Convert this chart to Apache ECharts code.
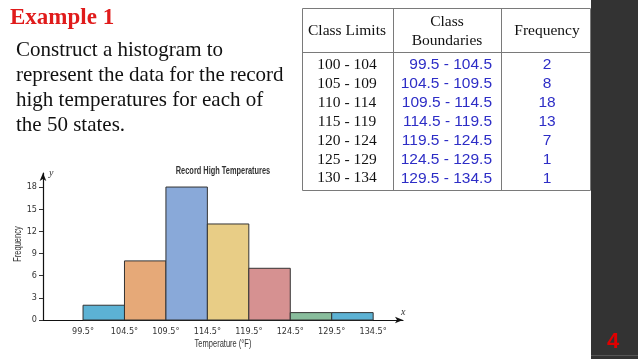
<!DOCTYPE html>
<html>
<head>
<meta charset="utf-8">
<script src="https://cdn.jsdelivr.net/npm/echarts@6/dist/echarts.min.js"></script>
<style>
html,body{margin:0;padding:0;background:#fff;}
#c{width:638px;height:359px;}
</style>
</head>
<body>
<div id="c"></div>
<script>
// ---- data ----
const classLimits = ['100 - 104','105 - 109','110 - 114','115 - 119','120 - 124','125 - 129','130 - 134'];
const lowerBounds = [99.5, 104.5, 109.5, 114.5, 119.5, 124.5, 129.5];
const upperBounds = [104.5, 109.5, 114.5, 119.5, 124.5, 129.5, 134.5];
const frequencies = [2, 8, 18, 13, 7, 1, 1];
const boundaryTicks = [99.5, 104.5, 109.5, 114.5, 119.5, 124.5, 129.5, 134.5];
const yTicks = [0, 3, 6, 9, 12, 15, 18];
const barColors = ['#5cb2d4', '#e6a978', '#89a9d9', '#e8cd86', '#d69191', '#88bd9c', '#5cb2d4'];

const chart = echarts.init(document.getElementById('c'), null, {renderer: 'canvas'});

const serif = '"Liberation Serif", "Times New Roman", serif';
const narrow = '"DejaVu Sans Condensed", "Liberation Sans Narrow", sans-serif';
const sans = '"Liberation Sans", Arial, sans-serif';

// table graphics
const tbl = [];
const tL = 302, tR = 590, tT = 8, tB = 190, tH = 52, c1 = 393, c2 = 501;
const lineStyle = {stroke: '#7a7a7a', lineWidth: 1};
tbl.push({type: 'rect', shape: {x: tL + 0.5, y: tT + 0.5, width: tR - tL, height: tB - tT}, style: {fill: null, stroke: '#7a7a7a', lineWidth: 1}});
tbl.push({type: 'line', shape: {x1: tL, y1: tH + 0.5, x2: tR, y2: tH + 0.5}, style: lineStyle});
tbl.push({type: 'line', shape: {x1: c1 + 0.5, y1: tT, x2: c1 + 0.5, y2: tB}, style: lineStyle});
tbl.push({type: 'line', shape: {x1: c2 + 0.5, y1: tT, x2: c2 + 0.5, y2: tB}, style: lineStyle});
const hdr = {font: '15.5px ' + serif, fill: '#111', align: 'center', verticalAlign: 'middle'};
tbl.push({type: 'text', x: 347, y: 31, style: Object.assign({text: 'Class Limits'}, hdr)});
tbl.push({type: 'text', x: 447, y: 22, style: Object.assign({text: 'Class'}, hdr)});
tbl.push({type: 'text', x: 447, y: 41, style: Object.assign({text: 'Boundaries'}, hdr)});
tbl.push({type: 'text', x: 547, y: 31, style: Object.assign({text: 'Frequency'}, hdr)});
classLimits.forEach((lim, i) => {
  const y = 65 + i * 18.9;
  tbl.push({type: 'text', x: 347, y: y, style: {text: lim, font: '15.5px ' + serif, fill: '#111', align: 'center', verticalAlign: 'middle'}});
  tbl.push({type: 'text', x: 492, y: y, style: {text: lowerBounds[i] + ' - ' + upperBounds[i], font: '15.5px ' + sans, fill: '#2d2dc6', align: 'right', verticalAlign: 'middle'}});
  tbl.push({type: 'text', x: 547, y: y, style: {text: String(frequencies[i]), font: '15.5px ' + sans, fill: '#2d2dc6', align: 'center', verticalAlign: 'middle'}});
});

const bodyLines = ['Construct a histogram to', 'represent the data for the record', 'high temperatures for each of', 'the 50 states.'];
const slide = [
  {type: 'rect', shape: {x: 591, y: 0, width: 47, height: 359}, style: {fill: '#333333'}},
  {type: 'line', shape: {x1: 591, y1: 355.5, x2: 638, y2: 355.5}, style: {stroke: '#555', lineWidth: 1}},
  {type: 'text', x: 613, y: 342, style: {text: '4', font: 'bold 22px ' + sans, fill: '#e00000', align: 'center', verticalAlign: 'middle'}},
  {type: 'text', x: 10, y: 18, style: {text: 'Example 1', font: 'bold 23px ' + serif, fill: '#e01b1b', align: 'left', verticalAlign: 'middle'}},
];
bodyLines.forEach((t, i) => {
  slide.push({type: 'text', x: 16, y: 50 + i * 25, style: {text: t, font: '21px ' + serif, fill: '#111', align: 'left', verticalAlign: 'middle'}});
});
// chart title and axis titles (condensed look)
slide.push({type: 'text', x: 223, y: 171, scaleX: 0.74, style: {text: 'Record High Temperatures', font: 'bold 10px ' + sans, fill: '#333', align: 'center', verticalAlign: 'middle'}});
slide.push({type: 'text', x: 18, y: 244, rotation: Math.PI / 2, scaleX: 0.75, style: {text: 'Frequency', font: '10px ' + sans, fill: '#333', align: 'center', verticalAlign: 'middle'}});
slide.push({type: 'text', x: 223, y: 344, scaleX: 0.75, style: {text: 'Temperature (°F)', font: '10px ' + sans, fill: '#333', align: 'center', verticalAlign: 'middle'}});

const histData = lowerBounds.map((lo, i) => [lo, upperBounds[i], frequencies[i]]);

chart.setOption({
  animation: false,
  backgroundColor: '#fff',
  grid: {left: 43, right: 235, top: 173, bottom: 39},
  xAxis: {
    type: 'value', min: 94.67, max: 138.1,
    name: 'x', nameLocation: 'end', nameGap: -2,
    nameTextStyle: {fontFamily: serif, fontStyle: 'italic', fontSize: 10, color: '#333', verticalAlign: 'bottom', padding: [0, 0, 3, 0]},
    axisLine: {show: true, onZero: false, symbol: ['none', 'arrow'], symbolSize: [5, 8], lineStyle: {color: '#111', width: 1.2}},
    axisTick: {show: false},
    splitLine: {show: false},
    axisLabel: {
      customValues: boundaryTicks, margin: 7,
      formatter: v => v + '°',
      fontFamily: narrow, fontSize: 9, color: '#333'
    }
  },
  yAxis: {
    type: 'value', min: 0, max: 19.9,
    name: 'y', nameLocation: 'end', nameGap: -5,
    nameTextStyle: {fontFamily: serif, fontStyle: 'italic', fontSize: 10, color: '#333', align: 'left', padding: [0, 0, 0, 6]},
    axisLine: {show: true, symbol: ['none', 'arrow'], symbolSize: [5, 8], lineStyle: {color: '#111', width: 1.2}},
    axisTick: {show: true, customValues: yTicks, length: 4, lineStyle: {color: '#333'}},
    splitLine: {show: false},
    axisLabel: {customValues: yTicks, margin: 6, fontFamily: narrow, fontSize: 9, color: '#333'}
  },
  graphic: tbl.concat(slide),
  series: [{
    type: 'custom',
    data: histData,
    encode: {x: [0, 1], y: 2},
    renderItem: function (params, api) {
      const p0 = api.coord([api.value(0), 0]);
      const p1 = api.coord([api.value(1), api.value(2)]);
      return {
        type: 'rect',
        shape: {x: p0[0], y: p1[1], width: p1[0] - p0[0], height: p0[1] - p1[1]},
        style: {fill: barColors[params.dataIndex], stroke: '#333', lineWidth: 1}
      };
    }
  }]
});
</script>
</body>
</html>
